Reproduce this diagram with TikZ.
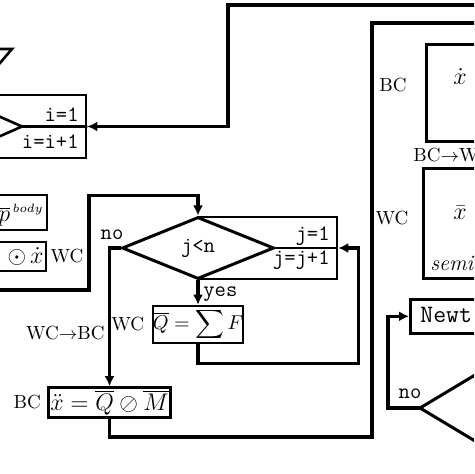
\documentclass[tikz,border=0pt]{standalone}
\usepackage{tikz}
\usetikzlibrary{shapes,arrows.meta,positioning,calc}

\begin{document}
\begin{tikzpicture}[
    x=0.5pt, y=-0.5pt,
    frame/.style={draw, line width=1.3pt},
    box/.style={frame, rectangle, inner sep=0pt},
    dia/.style={diamond, draw, line width=1.5pt, fill=white, aspect=2.45, inner sep=0pt},
    wire/.style={line width=1.8pt},
    arr/.style={wire, -{Latex[length=5pt,width=5pt]}},
    code/.style={font=\fontsize{11}{13}\selectfont\ttfamily, inner sep=0pt},
    lbl/.style={font=\fontsize{9.5}{11}\selectfont, inner sep=0pt}
]
\useasboundingbox (0,0) rectangle (474,474);
\clip (0,0) rectangle (474,474);

\draw[frame] (-10,49) -- (12,49) -- (-6,70);

\node[box, minimum width=48pt, minimum height=31.5pt] (iloop) at (38,126.5) {};
\draw[frame] (-20,108) -- (22,126.5) -- (-20,145) (22,126.5) -- (iloop.east);
\node[code, anchor=east] (ione) at (79,115) {i=1};
\node[code, anchor=east] (iinc) at (79,142) {i=i+1};
\coordinate (topin) at (490,5);
\coordinate (bendi) at (228,126.5);
\draw[arr] (topin) -| (bendi) -- (iloop.east);

\node[box, minimum width=28.5pt, minimum height=17.5pt] (pbody) at (18.5,212.5) {};
\node[anchor=east, inner sep=0pt, font=\large] (pbodytxt) at (44,215) {$\overline{p}^{\,\scriptscriptstyle body}$};
\node[box, minimum width=28pt, minimum height=14.5pt] (odot) at (18,256.5) {};
\node[anchor=east, inner sep=0pt, font=\large] (odottxt) at (44,257) {$\odot\,\dot{x}$};
\node[lbl, right=1.5pt of odot] (odotwc) {WC};

\node[box, minimum width=69.5pt, minimum height=31pt] (jloop) at (267.5,248) {};
\node[dia, minimum width=76pt, minimum height=31pt, font=\fontsize{11}{13}\selectfont\ttfamily] (jdia) at (198,248) {j<n};
\draw[frame] (jdia.east) -- (jloop.east);
\node[code, anchor=east] (jone) at (330,236) {j=1};
\node[code, anchor=east] (jinc) at (330,260) {j=j+1};
\coordinate (leftin) at (-10,290);
\draw[arr] (leftin) -- (89,290) |- ($(jdia.north)+(0,-20)$) -- (jdia.north);

\node[box, minimum width=43.5pt, minimum height=18.5pt] (qbox) at (198,324.5) {$\overline{Q}=\displaystyle\sum F$};
\node[lbl, left=3.5pt of qbox] (qwc) {WC};
\node[code, anchor=west] (jyes) at (203,294) {yes};
\draw[arr] (jdia.south) -- (qbox.north);
\draw[arr] (qbox.south) -- ++(0,19) -| ($(jloop.east)+(20,0)$) -- (jloop.east);

\node[box, minimum width=58pt, minimum height=15pt, inner xsep=1pt, font=\large] (xbox) at (109.5,402.5) {$\ddot{x}=\overline{Q}\oslash\overline{M}$};
\node[lbl, left=3pt of xbox] (xbc) {BC};
\node[code] (jno) at (112,235) {no};
\node[lbl, anchor=east] (wcbc) at (105,333) {WC$\rightarrow$BC};
\draw[arr] (jdia.west) -| (xbox.north);
\coordinate (bendo) at (372,23);
\coordinate (rightout) at (490,23);
\draw[wire] (xbox.south) -- ++(0,18) -| (bendo) -- (rightout);

\node[box, minimum width=50pt, minimum height=48.5pt, anchor=north west] (bcbox) at (425,43) {};
\node[font=\large] (bcx) at (460,77) {$\dot{x}$};
\node[lbl] (bclbl) at (393,85) {BC};
\node[lbl, anchor=west] (bcwc) at (413,155) {BC$\rightarrow$W};
\node[box, minimum width=50pt, minimum height=55pt, anchor=north west] (wcbox) at (422,167) {};
\node[font=\large] (wcx) at (460,213) {$\bar{x}$};
\node[lbl] (wclbl) at (392,218) {WC};
\node[anchor=west, inner sep=0pt, font=\fontsize{11}{13}\selectfont] (semi) at (430,263) {\textit{semi}};

\node[box, minimum width=60pt, minimum height=17pt, anchor=north west] (newton) at (409,298) {};
\node[code, font=\fontsize{12.5}{14}\selectfont\ttfamily, anchor=west] (newttxt) at (420,315) {Newt};
\coordinate (ndiaw) at (420,408);
\draw[frame, line width=1.5pt] (490,366) -- (ndiaw) -- (490,450);
\node[code] (nno) at (410,394) {no};
\draw[arr] (ndiaw) -- (388,408) |- (newton.west);

\end{tikzpicture}
\end{document}
